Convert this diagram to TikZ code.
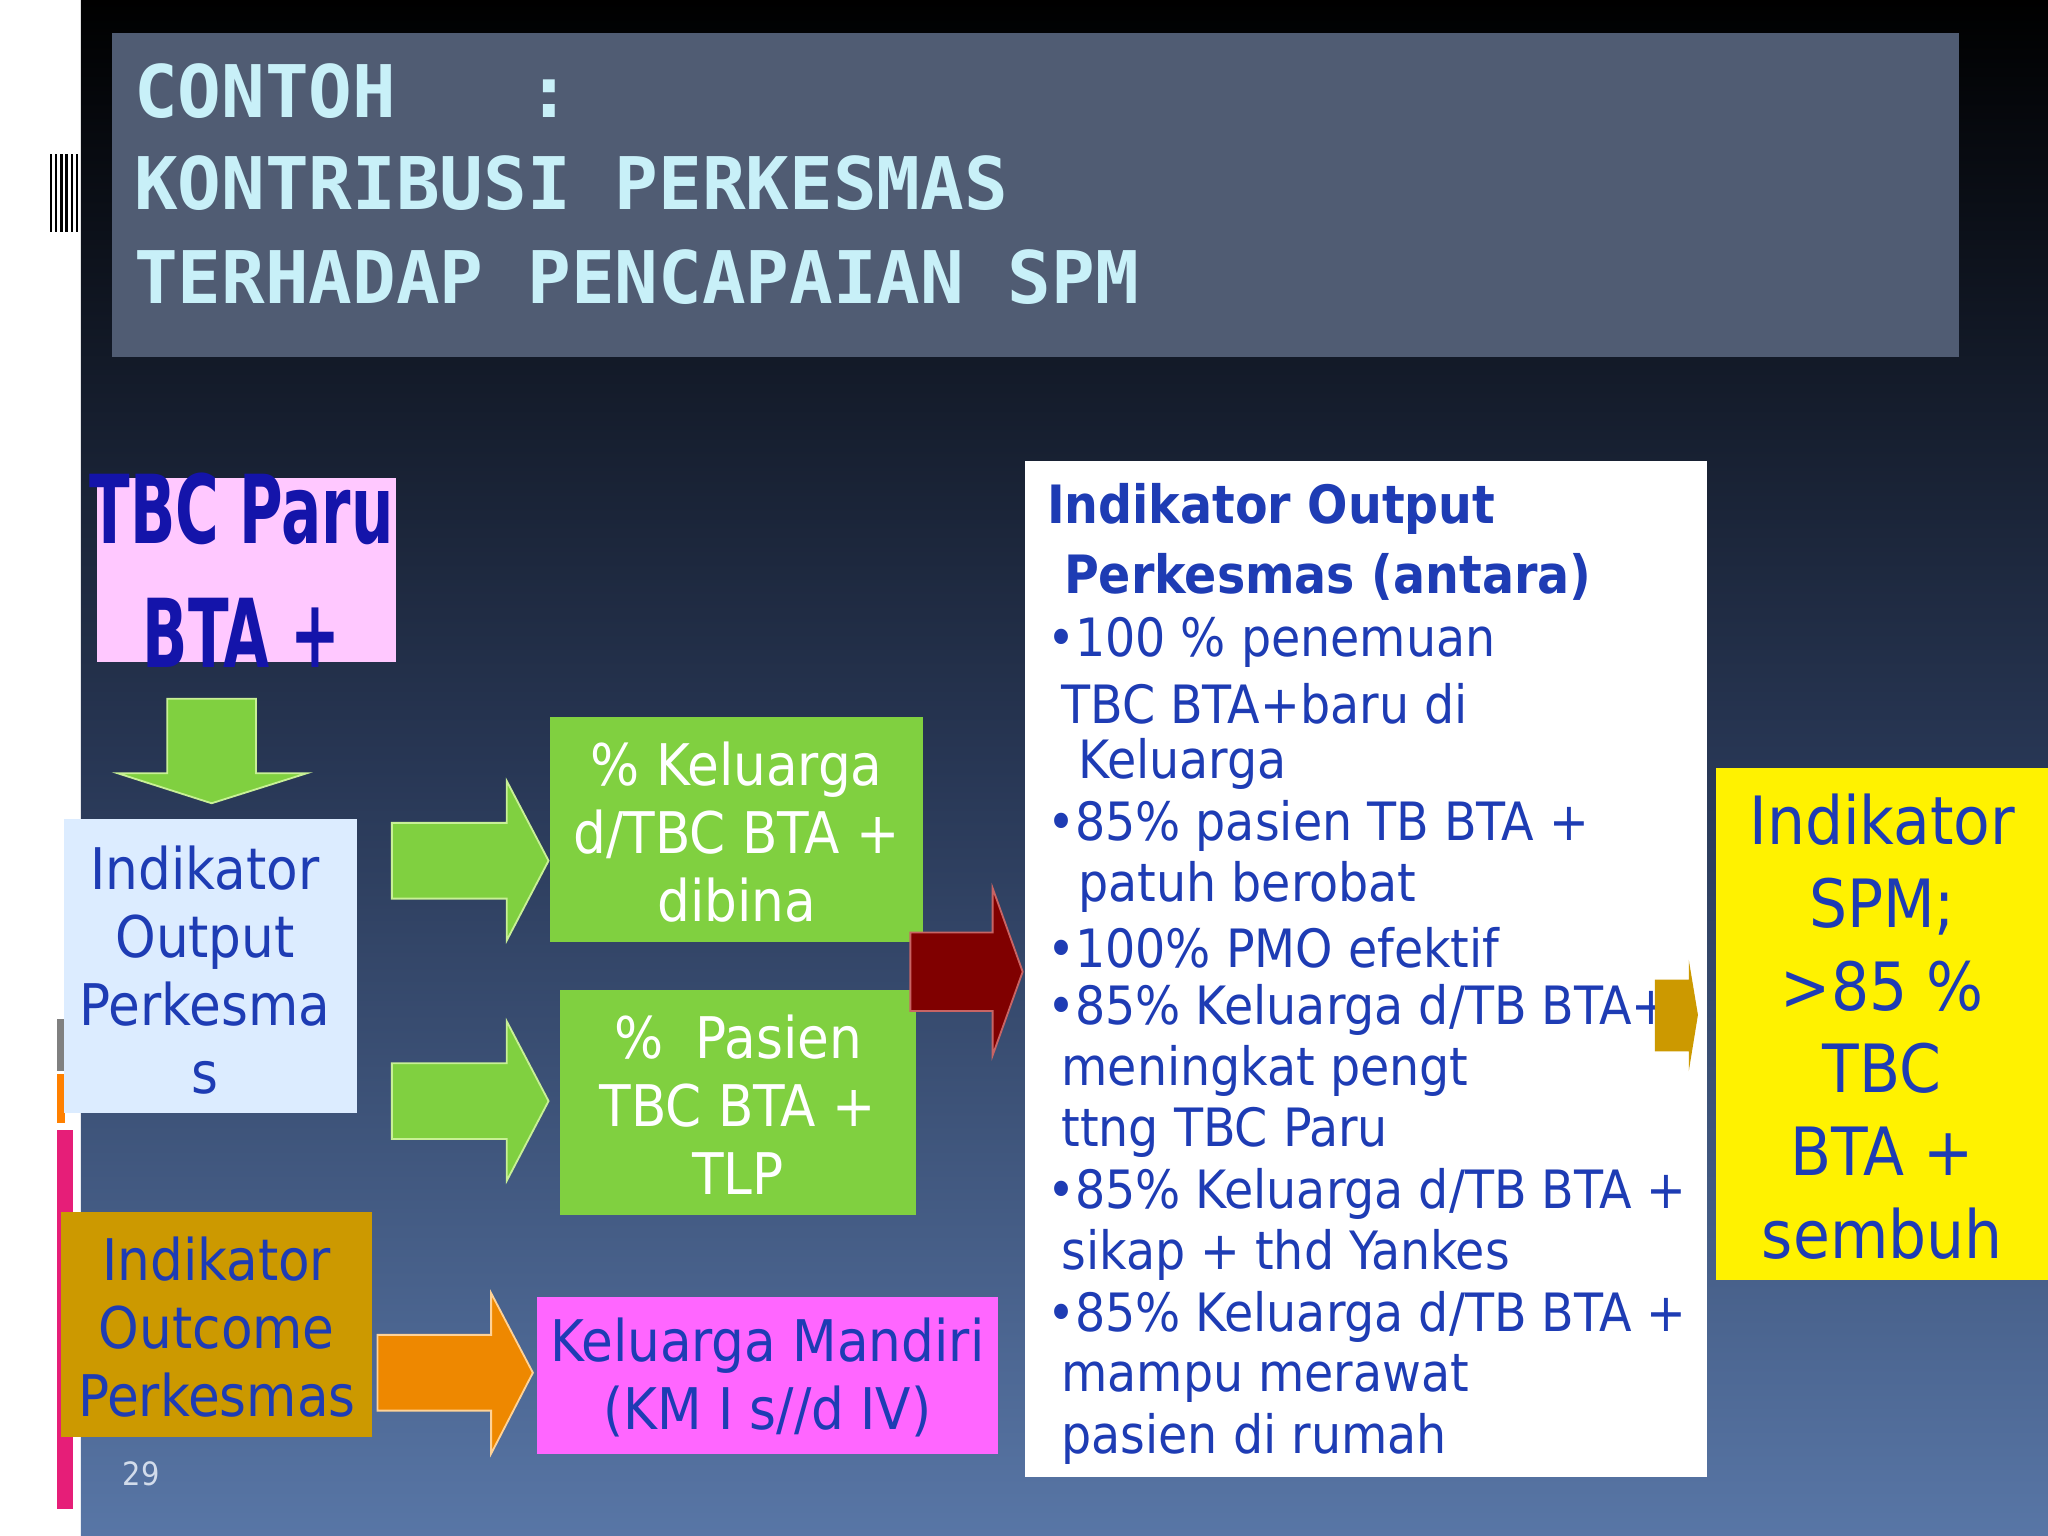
\documentclass[tikz,border=0pt]{standalone}
\usepackage{fontspec}
\setmainfont{DejaVu Sans Condensed}
\newfontfamily\monof{DejaVu Sans Mono}
\newfontfamily\impf{DejaVu Sans Condensed}
\definecolor{tblue}{HTML}{1E3CB4}
\definecolor{titlec}{HTML}{C8F0F8}
\definecolor{gfill}{HTML}{80D040}
\definecolor{gedge}{HTML}{C8F096}
\definecolor{gold}{HTML}{CC9900}
\definecolor{bgbot}{HTML}{5876A6}
\definecolor{bgmid}{HTML}{283755}
\definecolor{pinkbar}{HTML}{E61E78}
\definecolor{titlebg}{HTML}{505C73}
\definecolor{tbcbg}{HTML}{FFC8FF}
\definecolor{tbctext}{HTML}{1414AA}
\definecolor{iobg}{HTML}{DCECFF}
\definecolor{magbg}{HTML}{FF66FF}
\definecolor{orarr}{HTML}{EE8800}
\definecolor{oredge}{HTML}{FFD296}
\definecolor{redarr}{HTML}{800000}
\definecolor{rededge}{HTML}{C86464}
\definecolor{pnc}{HTML}{D2DCEB}
\tikzset{
 bx/.style={draw=none,inner sep=0pt,align=center},
 ln/.style={anchor=west,inner sep=0pt,text=tblue,font=\fontsize{11.5}{13}\selectfont},
}
\begin{document}
\begin{tikzpicture}[x=0.01cm,y=-0.01cm]
\useasboundingbox (0,0) rectangle (1568,1176);
\fill[white] (0,0) rectangle (62,1176);
\shade[top color=black,bottom color=bgbot,middle color=bgmid] (62,0) rectangle (1568,1176);
% left decorations
\foreach \x in {38,42,46,50,54,58}{\fill[black] (\x,118) rectangle (\x+2,178);}
\fill[gray] (44,780) rectangle (50,820);
\fill[orange] (44,822) rectangle (50,860);
\fill[pinkbar] (44,865) rectangle (56,1155);
% title
\fill[titlebg] (86,25) rectangle (1500,273);
\node[anchor=west,inner sep=0pt,text=titlec,font=\monof\bfseries\fontsize{15.8}{18}\selectfont] (t1) at (102,70) {CONTOH\ \ \ :};
\node[anchor=west,inner sep=0pt,text=titlec,font=\monof\bfseries\fontsize{15.8}{18}\selectfont] (t2) at (102,140) {KONTRIBUSI PERKESMAS};
\node[anchor=west,inner sep=0pt,text=titlec,font=\monof\bfseries\fontsize{15.8}{18}\selectfont] (t3) at (102,212) {TERHADAP PENCAPAIAN SPM};
% box backgrounds
\fill[tbcbg] (74,366) rectangle (303,507);
\fill[iobg] (49,627) rectangle (273,852);
\fill[gold] (47,928) rectangle (285,1100);
\fill[gfill] (421,549) rectangle (707,721);
\fill[gfill] (429,758) rectangle (701,930);
\fill[magbg] (411,993) rectangle (764,1113);
\fill[yellow] (1314,588) rectangle (1568,980);
\fill[white] (785,353) rectangle (1307,1131);
% box texts
\node[bx,text=tbctext,font=\impf\bfseries\fontsize{18}{18}\selectfont] (tbc) at (185,436.5) {\scalebox{0.8}[1.15]{TBC Paru}\\[0.5em]\scalebox{0.8}[1.15]{BTA +}};
\node[bx,text=tblue,font=\fontsize{12.5}{14.8}\selectfont] (io) at (157,743) {Indikator\\Output\\Perkesma\\s};
\node[bx,text=tblue,font=\fontsize{12.5}{14.8}\selectfont] (ioc) at (166,1016) {Indikator\\Outcome\\Perkesmas};
\node[bx,text=white,font=\fontsize{12.5}{14.8}\selectfont] (g1) at (564,637) {\% Keluarga\\d/TBC BTA +\\dibina};
\node[bx,text=white,font=\fontsize{12.5}{14.8}\selectfont] (g2) at (565,846) {\%\ \ Pasien\\TBC BTA +\\TLP};
\node[bx,text=tblue,font=\fontsize{12.5}{14.8}\selectfont] (km) at (587.5,1055) {Keluarga Mandiri\\(KM I s//d IV)};
\node[bx,text=tblue,font=\fontsize{14.5}{18}\selectfont] (spm) at (1441,786) {Indikator\\SPM;\\>85 \%\\TBC\\BTA +\\sembuh};
\node[ln,font=\bfseries\fontsize{11.5}{13}\selectfont] (h1) at (801,390) {Indikator Output};
\node[ln,font=\bfseries\fontsize{11.5}{13}\selectfont] (h2) at (814,442) {Perkesmas (antara)};
\node[ln] at (801,492) {•100 \% penemuan};
\node[ln] at (812,539) {TBC BTA+baru di};
\node[ln] at (825,585) {Keluarga};
\node[ln] at (801,632) {•85\% pasien TB BTA +};
\node[ln] at (825,679) {patuh berobat};
\node[ln] at (801,726) {•100\% PMO efektif};
\node[ln] at (801,773) {•85\% Keluarga d/TB BTA+};
\node[ln] at (812,820) {meningkat pengt};
\node[ln] at (812,867) {ttng TBC Paru};
\node[ln] at (801,914) {•85\% Keluarga d/TB BTA +};
\node[ln] at (812,961) {sikap + thd Yankes};
\node[ln] at (801,1008) {•85\% Keluarga d/TB BTA +};
\node[ln] at (812,1055) {mampu merawat};
\node[ln] at (812,1102) {pasien di rumah};
\node[anchor=center,inner sep=0pt,text=pnc,font=\fontsize{7}{8}\selectfont] (pn) at (108,1128) {29};
% arrows
\filldraw[fill=gfill,draw=gedge] (128,535) -- (196,535) -- (196,592) -- (235,592) -- (162,615) -- (90,592) -- (128,592) -- cycle;
\foreach \yc in {659,843}{
\filldraw[fill=gfill,draw=gedge] (300,\yc-29) -- (388,\yc-29) -- (388,\yc-61) -- (420,\yc) -- (388,\yc+61) -- (388,\yc+29) -- (300,\yc+29) -- cycle;}
\filldraw[fill=orarr,draw=oredge] (289,1022) -- (376,1022) -- (376,990) -- (408,1051) -- (376,1113) -- (376,1080) -- (289,1080) -- cycle;
\filldraw[fill=redarr,draw=rededge] (697,714) -- (760,714) -- (760,680) -- (783,744) -- (760,808) -- (760,774) -- (697,774) -- cycle;
\fill[gold] (1267,750) -- (1293,750) -- (1293,735) -- (1300,777) -- (1293,820) -- (1293,805) -- (1267,805) -- cycle;
\end{tikzpicture}
\end{document}
